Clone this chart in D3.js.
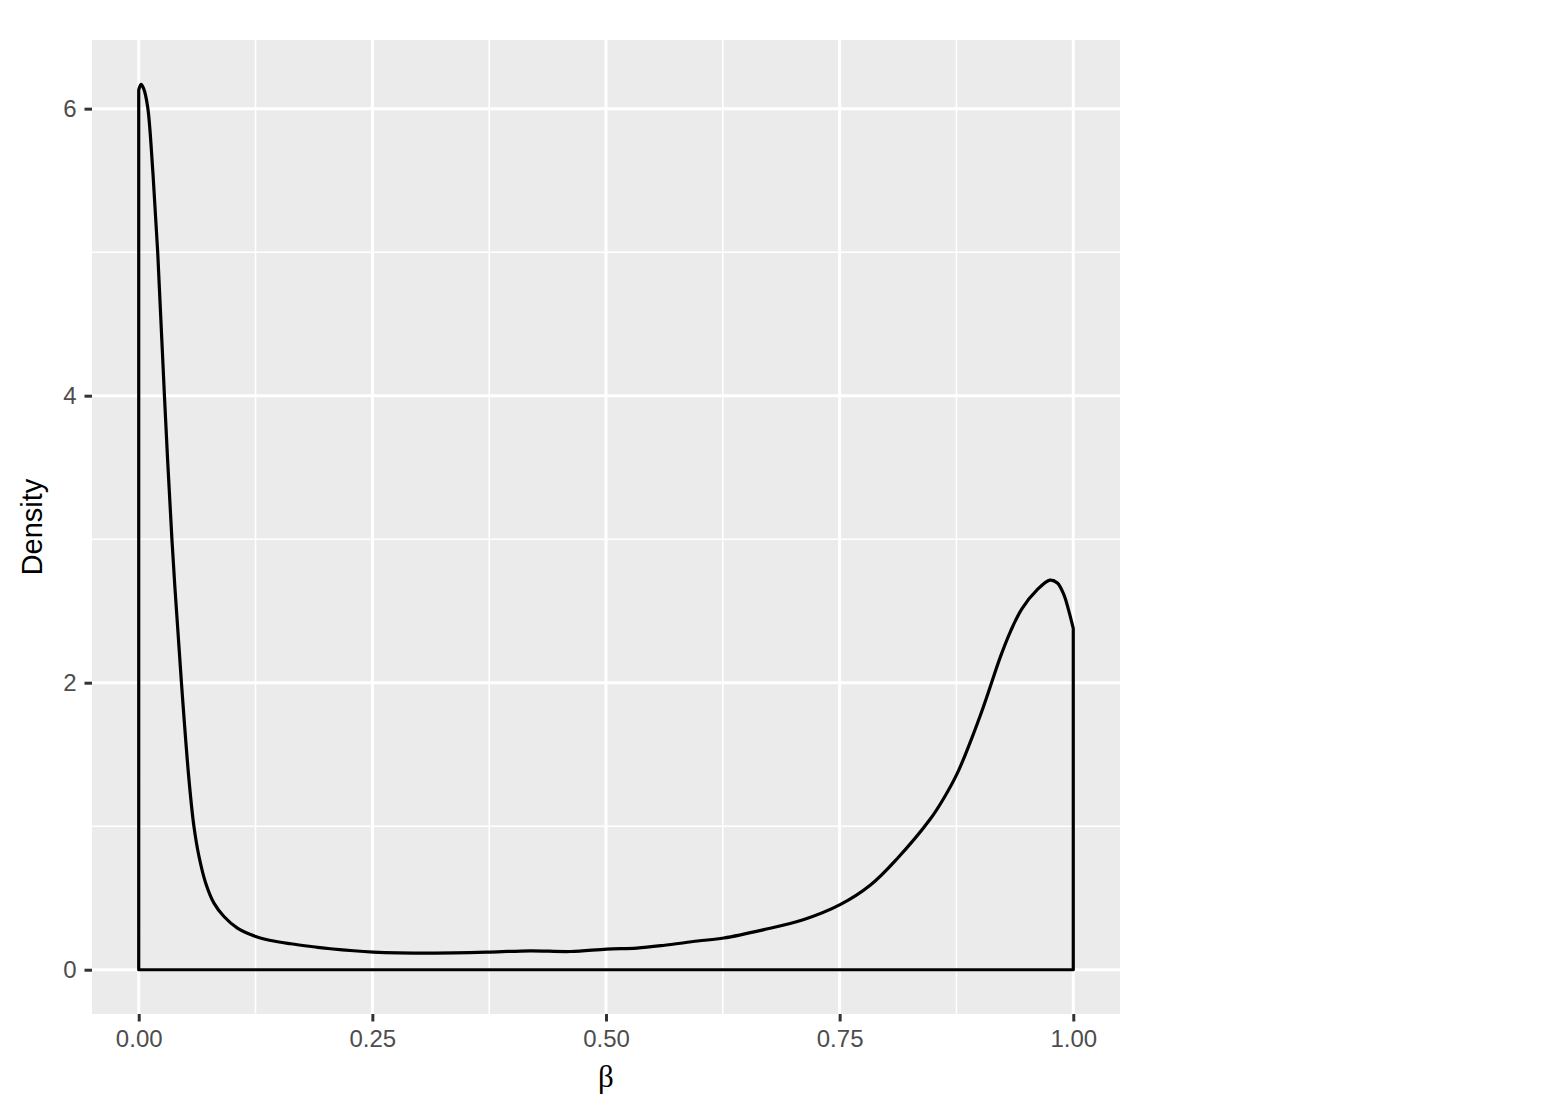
<!DOCTYPE html>
<html>
<head>
<meta charset="utf-8">
<script src="https://cdn.jsdelivr.net/npm/d3@7"></script>
<style>
  html, body { margin: 0; padding: 0; background: #fff; }
  svg { display: block; }
</style>
</head>
<body>
<div id="chart"></div>
<script>
// density estimate of beta
const betaX = [0, 0.0025, 0.0053, 0.0096, 0.015, 0.0203, 0.0275, 0.0356, 0.0457, 0.0538,
  0.0591, 0.0645, 0.0717, 0.0805, 0.0912, 0.1056, 0.1251, 0.1412, 0.1626, 0.187, 0.205,
  0.251, 0.312, 0.376, 0.419, 0.462, 0.501, 0.533, 0.561, 0.598, 0.626, 0.668, 0.711,
  0.751, 0.783, 0.811, 0.847, 0.861, 0.876, 0.890, 0.901, 0.909, 0.922, 0.933, 0.945,
  0.961, 0.975, 0.983, 0.990, 0.995, 1.0];
const densityY = [6.13, 6.17, 6.14, 6.01, 5.57, 5.0, 4.0, 2.99, 2.0, 1.322,
  0.997, 0.789, 0.603, 0.464, 0.371, 0.290, 0.232, 0.204, 0.181, 0.160, 0.146,
  0.123, 0.116, 0.123, 0.132, 0.127, 0.144, 0.151, 0.169, 0.200, 0.221, 0.278, 0.348,
  0.455, 0.590, 0.770, 1.050, 1.190, 1.370, 1.590, 1.780, 1.930, 2.180, 2.360, 2.515,
  2.645, 2.715, 2.695, 2.612, 2.506, 2.378];

const xTicks = [0, 0.25, 0.5, 0.75, 1];
const xTickLabels = ["0.00", "0.25", "0.50", "0.75", "1.00"];
const xMinor = [0.125, 0.375, 0.625, 0.875];
const yTicks = [0, 2, 4, 6];
const yTickLabels = ["0", "2", "4", "6"];
const yMinor = [1, 3, 5];

const width = 1560, height = 1120;
const panel = { left: 92, right: 1120, top: 40, bottom: 1014 };

const svg = d3.select("#chart").append("svg")
    .attr("width", width)
    .attr("height", height);

// ggplot-like expansion of 5% around the data range
const x = d3.scaleLinear().domain([-0.05, 1.05]).range([panel.left, panel.right]);
const yMax = d3.max(densityY);
const y = d3.scaleLinear().domain([-0.05 * yMax, yMax * 1.05]).range([panel.bottom, panel.top]);

svg.append("rect")
    .attr("x", panel.left).attr("y", panel.top)
    .attr("width", panel.right - panel.left)
    .attr("height", panel.bottom - panel.top)
    .attr("fill", "#EBEBEB");

const grid = svg.append("g").attr("stroke", "#fff");

grid.selectAll("line.xminor").data(xMinor).join("line")
    .attr("x1", d => x(d)).attr("x2", d => x(d))
    .attr("y1", panel.top).attr("y2", panel.bottom)
    .attr("stroke-width", 1.5);
grid.selectAll("line.yminor").data(yMinor).join("line")
    .attr("y1", d => y(d)).attr("y2", d => y(d))
    .attr("x1", panel.left).attr("x2", panel.right)
    .attr("stroke-width", 1.5);
grid.selectAll("line.xmajor").data(xTicks).join("line")
    .attr("x1", d => x(d)).attr("x2", d => x(d))
    .attr("y1", panel.top).attr("y2", panel.bottom)
    .attr("stroke-width", 3);
grid.selectAll("line.ymajor").data(yTicks).join("line")
    .attr("y1", d => y(d)).attr("y2", d => y(d))
    .attr("x1", panel.left).attr("x2", panel.right)
    .attr("stroke-width", 3);

// closed density outline: curve, then down to the baseline and back
const pts = betaX.map((b, i) => [b, densityY[i]]);
const line = d3.line()
    .x(d => x(d[0]))
    .y(d => y(d[1]))
    .curve(d3.curveCatmullRom.alpha(0.5));

svg.append("path")
    .attr("d", line(pts) + "L" + x(1) + "," + y(0) + "L" + x(0) + "," + y(0) + "Z")
    .attr("fill", "none")
    .attr("stroke", "#000")
    .attr("stroke-width", 3.2)
    .attr("stroke-linejoin", "round");

// axes
const xAxis = d3.axisBottom(x)
    .tickValues(xTicks)
    .tickFormat((d, i) => xTickLabels[i])
    .tickSize(7.5)
    .tickPadding(8);
const yAxis = d3.axisLeft(y)
    .tickValues(yTicks)
    .tickFormat((d, i) => yTickLabels[i])
    .tickSize(7.5)
    .tickPadding(8);

const gx = svg.append("g")
    .attr("transform", `translate(0,${panel.bottom})`)
    .call(xAxis);
const gy = svg.append("g")
    .attr("transform", `translate(${panel.left},0)`)
    .call(yAxis);

[gx, gy].forEach(g => {
    g.select(".domain").remove();
    g.selectAll(".tick line").attr("stroke", "#333333").attr("stroke-width", 3);
    g.selectAll(".tick text")
        .attr("fill", "#4D4D4D")
        .style("font-family", "'Liberation Sans', Arial, sans-serif")
        .style("font-size", "24px");
});

svg.append("text")
    .attr("x", x(0.5))
    .attr("y", 1087)
    .attr("text-anchor", "middle")
    .style("font-family", "'Liberation Serif', 'DejaVu Serif', serif")
    .style("font-size", "31px")
    .text("β");

svg.append("text")
    .attr("transform", `translate(42,${(panel.top + panel.bottom) / 2}) rotate(-90)`)
    .attr("text-anchor", "middle")
    .style("font-family", "'Liberation Sans', Arial, sans-serif")
    .style("font-size", "29px")
    .text("Density");
</script>
</body>
</html>
